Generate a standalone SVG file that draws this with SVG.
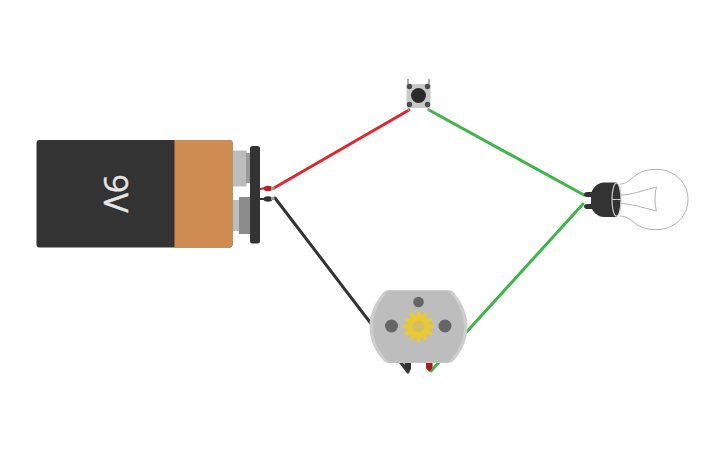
<svg xmlns="http://www.w3.org/2000/svg" width="725" height="453" viewBox="0 0 725 453">
<style>
.w{fill:none;stroke-width:3;stroke-linecap:round}
.r{stroke:#e0262b}.k{stroke:#333}.g{stroke:#3fb54a}
.lead{fill:none;stroke:#999;stroke-width:1.6}
.fil{fill:none;stroke:#b3b3b3;stroke-width:1}
text{font-family:"Open Sans","Liberation Sans",sans-serif}
</style>
<rect width="725" height="453" fill="#fff"/>
<g id="connectors">
<path class="w r" d="M274 188 L409 110"/>
<path class="w g" d="M429 110 L584 195"/>
<path class="w g" d="M583 204 L431 371"/>
<path class="w k" d="M275 198 L408 372"/>
</g>
<g id="battery">
<rect x="36.500" y="140" width="196" height="107.500" rx="3" fill="#333"/>
<path d="M174.500 140H229.500a3 3 0 0 1 3 3V244.500a3 3 0 0 1-3 3H174.500Z" fill="#cf8c52"/>
<rect x="233" y="150.500" width="13.500" height="36" fill="#bdbdbd"/>
<rect x="246" y="153" width="5" height="30" fill="#999"/>
<rect x="233" y="200" width="6.500" height="31" fill="#bdbdbd"/>
<rect x="239" y="197" width="12" height="37" fill="#8c8c8c"/>
<rect x="250" y="146" width="10" height="97.500" rx="2.500" fill="#333"/>
<path d="M260 189 L266 188" stroke="#d0202a" stroke-width="2" fill="none"/>
<ellipse cx="268" cy="188.500" rx="4.500" ry="2.700" fill="#b8202a"/>
<rect x="271" y="187" width="3.500" height="3" fill="#999"/>
<path d="M260 199 L266 199" stroke="#333" stroke-width="2" fill="none"/>
<ellipse cx="268" cy="199" rx="4.500" ry="2.700" fill="#333"/>
<rect x="271" y="197" width="3.500" height="3" fill="#999"/>
<text x="116" y="193.500" transform="rotate(90 116 193.500)" text-anchor="middle" dominant-baseline="central" font-size="33" fill="#e6e6e6" stroke="#e6e6e6" stroke-width="0.400">9V</text>
</g>
<g id="pushbutton">
<path class="lead" d="M408 79V85M429 79V85M408.500 106V111M428.500 106V111"/>
<rect x="406.500" y="84" width="24" height="24" rx="1.500" fill="#c9c9c9"/>
<circle cx="409.500" cy="86.500" r="2.700" fill="#4d4d4d"/>
<circle cx="427.500" cy="86.500" r="2.700" fill="#4d4d4d"/>
<circle cx="409.500" cy="104.500" r="2.700" fill="#4d4d4d"/>
<circle cx="427.500" cy="104.500" r="2.700" fill="#4d4d4d"/>
<circle cx="418.500" cy="95.500" r="7.500" fill="#2b2b2b"/>
</g>
<g id="lamp">
<path d="M620 184 C626 184 630 180 636 175 C644 169.500 652 169 660 169.500 C676 171 688 184 688 199.500 C688 215 676 228 660 229.500 C652 230 644 229.500 636 224 C630 219 626 216 620 216" fill="#fff" stroke="#b3b3b3" stroke-width="1"/>
<path class="fil" d="M621 195 C632 195 640 191 656.500 187 C654.500 194 654.500 204 656.500 211 C640 207 632 204 621 203.500"/>
<path d="M592 192 H587 C585 192 584 193 584 194.500 C584 196 585 197 587 197 H592ZM592 204 H587 C585 204 584 205 584 206.500 C584 208 585 209 587 209 H592Z" fill="#333"/>
<path d="M604 182.500 H617 V217 H604 C598 217 592 212 591 206 V194 C592 188 598 182.500 604 182.500Z" fill="#333"/>
<ellipse cx="616.500" cy="199.700" rx="4.500" ry="16.500" fill="#333" stroke="#ccc" stroke-width="1.200"/>
<path d="M612 199.500H621" stroke="#ccc" stroke-width="1" fill="none"/>
</g>
<g id="motor">
<path d="M404.500 363H411V369L408 373.500L404.500 369Z" fill="#333"/>
<path d="M426 363H432.500V368L429 372L426 368Z" fill="#a81c22"/>
<path d="M389 290H448 Q452 290 455 294 C463 304 467.500 315 467.500 326 C467.500 338 463 350 455 359 Q452 363 448 363H389 Q385 363 382 359 C374 350 369.500 338 369.500 326 C369.500 315 374 304 382 294 Q385 290 389 290Z" fill="#cdcdcd"/>
<path d="M390 291H447 Q450 291 452 295 C460 305 464 316 464 326 C464 338 460 349 452 358 Q449 362.500 446 362.500H391 Q388 362.500 385 358 C377 349 373 338 373 326 C373 316 377 305 385 295 Q387 291 390 291Z" fill="#bdbdbd"/>
<circle cx="418.500" cy="302" r="5.300" fill="#666"/>
<circle cx="391.500" cy="326" r="6.500" fill="#666"/>
<circle cx="445" cy="326" r="6.500" fill="#666"/>
<circle cx="418.500" cy="326.500" r="11.500" fill="#e9ca35"/>
<path d="M418.500 326.500V312.500M418.500 326.500V340.500M418.500 326.500H404.500M418.500 326.500H432.500M418.500 326.500L411.500 314.400M418.500 326.500L425.500 314.400M418.500 326.500L411.500 338.600M418.500 326.500L425.500 338.600M418.500 326.500L406.400 319.500M418.500 326.500L406.400 333.500M418.500 326.500L430.600 319.500M418.500 326.500L430.600 333.500" stroke="#e9ca35" stroke-width="3.800" stroke-linecap="round" fill="none"/>
<circle cx="418.500" cy="326.500" r="6" fill="#d6bd61"/>
</g>
</svg>
